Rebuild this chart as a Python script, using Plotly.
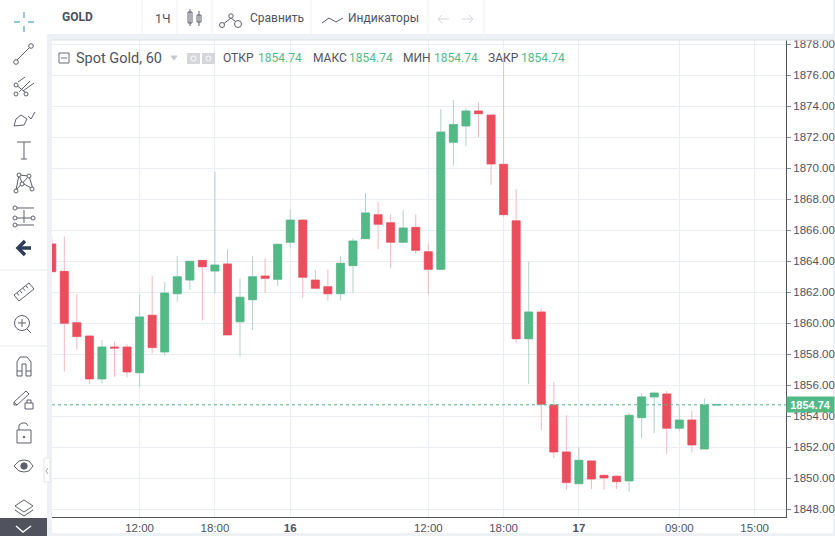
import plotly.graph_objects as go

W, H = 835, 536
PLOT_L, PLOT_R, PLOT_T, PLOT_B = 52, 786, 40, 517

# candles, hourly
opens = [1865.12, 1863.35, 1860.04, 1859.18, 1856.41, 1858.47, 1858.47, 1856.81, 1860.52, 1858.15,
         1861.91, 1862.79, 1864.06, 1863.37, 1863.83, 1860.10, 1861.52, 1863.05, 1862.84, 1865.23,
         1866.66, 1862.79, 1862.36, 1861.91, 1863.72, 1865.46, 1867.01, 1866.49, 1865.23, 1866.19,
         1864.62, 1863.48, 1871.68, 1872.73, 1873.70, 1873.44, 1870.26, 1866.61, 1859.00, 1860.73,
         1854.73, 1851.70, 1849.65, 1851.12, 1850.19, 1850.13, 1849.83, 1853.91, 1855.25, 1855.44,
         1853.23, 1853.76, 1851.89, 1854.74]
highs = [1865.57, 1865.60, 1861.89, 1859.18, 1858.92, 1858.81, 1858.65, 1861.87, 1863.07, 1862.68,
         1864.34, 1864.00, 1864.06, 1869.76, 1864.77, 1862.90, 1864.34, 1864.19, 1865.10, 1867.35,
         1866.70, 1863.44, 1863.48, 1864.34, 1865.48, 1868.39, 1867.85, 1867.05, 1867.31, 1867.03,
         1865.16, 1873.81, 1874.41, 1873.91, 1874.26, 1873.44, 1877.12, 1868.65, 1863.97, 1860.97,
         1856.23, 1854.08, 1851.97, 1851.12, 1850.25, 1850.20, 1854.23, 1855.48, 1855.60, 1855.65,
         1854.73, 1854.34, 1855.16, 1854.74]
lows = [1863.33, 1856.88, 1858.32, 1856.08, 1856.13, 1856.55, 1856.52, 1855.87, 1858.06, 1857.91,
        1861.39, 1862.15, 1860.17, 1861.93, 1859.25, 1857.85, 1859.57, 1861.97, 1862.41, 1864.88,
        1861.61, 1862.20, 1861.46, 1861.46, 1861.94, 1865.46, 1864.79, 1863.55, 1865.23, 1864.47,
        1861.87, 1863.48, 1870.17, 1871.44, 1872.00, 1868.94, 1866.88, 1858.71, 1856.08, 1853.12,
        1851.31, 1849.25, 1849.65, 1849.31, 1849.25, 1849.31, 1849.14, 1852.58, 1852.90, 1851.57,
        1853.05, 1851.65, 1851.89, 1854.74]
closes = [1863.33, 1860.00, 1859.14, 1856.41, 1858.47, 1858.40, 1856.86, 1860.41, 1858.43, 1861.95,
          1863.00, 1864.00, 1863.65, 1863.76, 1859.25, 1861.68, 1863.00, 1862.90, 1865.10, 1866.66,
          1862.97, 1862.26, 1861.91, 1863.87, 1865.31, 1867.12, 1866.39, 1865.23, 1866.15, 1864.71,
          1863.48, 1872.34, 1872.82, 1873.70, 1873.52, 1870.28, 1867.01, 1859.00, 1860.73, 1854.77,
          1851.70, 1849.72, 1851.16, 1849.95, 1850.02, 1849.78, 1854.06, 1855.25, 1855.50, 1853.23,
          1853.76, 1852.15, 1854.73, 1854.74]
bar_index = list(range(len(opens)))

x_tick_index = [7, 13, 19, 30, 36, 42, 50, 56]
x_tick_labels = ["12:00", "18:00", "<b>16</b>", "12:00", "18:00", "<b>17</b>", "09:00", "15:00"]
y_ticks = list(range(1848, 1880, 2))
last_price = 1854.74

GREEN, RED = "#53b987", "#eb4d5c"
GREEN_WICK, RED_WICK = "#b4d2cc", "#f0b8c0"
GRID = "#e9eef2"
ICON = "#5d606b"
FONT = "Roboto"
shapes, notes = [], []


def px(x):
    return (x - PLOT_L) / (PLOT_R - PLOT_L)


def py(y):
    return (PLOT_B - y) / (PLOT_B - PLOT_T)


def rect(x0, y0, x1, y1, fill, line=None, width=1, layer="above"):
    shapes.append(dict(type="rect", xref="paper", yref="paper", x0=px(x0), x1=px(x1), y0=py(y0), y1=py(y1),
                       fillcolor=fill, line=dict(color=line or fill, width=width if line else 0), layer=layer))


def path(points, color=ICON, width=1, close=False, fill=None):
    d = "M" + " L".join(f"{px(a):.5f},{py(b):.5f}" for a, b in points) + (" Z" if close else "")
    shapes.append(dict(type="path", xref="paper", yref="paper", path=d, line=dict(color=color, width=width),
                       fillcolor=fill or "rgba(0,0,0,0)"))


def circle(cx, cy, r, color=ICON, width=1, fill="white"):
    shapes.append(dict(type="circle", xref="paper", yref="paper", x0=px(cx - r), x1=px(cx + r), y0=py(cy + r),
                       y1=py(cy - r), line=dict(color=color, width=width), fillcolor=fill))


def label(x, y, text, color="#50535e", size=12, anchor="left"):
    notes.append(dict(xref="paper", yref="paper", x=px(x), y=py(y), text=text, showarrow=False, xanchor=anchor,
                      yanchor="middle", font=dict(family=FONT, size=size, color=color), borderpad=0))


# panels behind the chart
rect(0, 0, 47, 536, "white", layer="below")
rect(47, 0, 833, 34, "white", layer="below")
rect(786, 40, 833, 517, "white", layer="below")
rect(52, 517, 833, 533, "white", layer="below")
for sx in [142, 177, 212, 311, 428, 484]:
    path([(sx, 0), (sx, 34)], "#eef0f3", 1)
for sy in [270, 346]:
    path([(0, sy), (47, sy)], "#e6e8ec", 1)
path([(52, 40), (833, 40)], "#dde2e6", 1)

# top bar
label(61, 17, "<b>GOLD</b>", "#4c4f59", 12)
label(154, 18, "1Ч", size=12.5)
label(249, 18, "Сравнить", size=12)
label(347, 18, "Индикаторы", size=12)
rect(188, 12, 192, 23, "white", ICON)
path([(190, 9), (190, 26)])
rect(197, 15, 201, 22, "white", ICON)
path([(199, 11), (199, 26)])
path([(222, 25), (231, 18), (240, 25)])
circle(222, 25, 2.5)
circle(231, 16, 2.2)
circle(238, 24, 3.5)
path([(322, 23), (329, 18), (336, 22), (343, 18)])
path([(438, 19), (449, 19)], "#d5d7dc")
path([(442, 15), (438, 19), (442, 23)], "#d5d7dc")
path([(462, 19), (473, 19)], "#d5d7dc")
path([(469, 15), (473, 19), (469, 23)], "#d5d7dc")

# legend line
rect(59, 53, 69, 63, "white", "#6b6e78")
path([(61, 58), (67, 58)], "#6b6e78")
label(75, 58, "Spot Gold, 60", "#50535e", 14.5)
path([(171, 56), (177, 56), (174, 60)], "#c5c8cc", 1, True, "#c5c8cc")
rect(187, 53, 200, 64, "#d4d6da")
rect(202, 53, 215, 64, "#d4d6da")
circle(193.5, 58.5, 2.5, "white", 1, "#d4d6da")
circle(208.5, 58.5, 2.5, "white", 1, "#d4d6da")
for name, name_x, val_x in [("ОТКР", 222, 257), ("МАКС", 312, 348), ("МИН", 402, 433), ("ЗАКР", 487, 520)]:
    label(name_x, 58, name, "#50535e", 12)
    label(val_x, 58, "1854.74", GREEN, 12)

# left toolbar
for seg in [[(14, 22), (20, 22)], [(28, 22), (34, 22)], [(24, 12), (24, 18)], [(24, 26), (24, 32)]]:
    path(seg, "#7db9d6", 1.6)
path([(17, 60), (30, 47)])
circle(16, 62, 2.3)
circle(31, 46, 2.3)
for seg in [[(15, 84), (26, 93)], [(18, 82), (25, 77)], [(23, 91), (34, 83)], [(19, 92), (30, 81)]]:
    path(seg)
for cx, cy in [(16, 94), (26, 94), (16, 85)]:
    circle(cx, cy, 2)
path([(14, 126), (24, 125), (27, 119), (21, 115), (16, 119)], close=True)
path([(28, 116), (31, 119), (35, 112)])
path([(17, 142), (31, 142)])
path([(24, 142), (24, 159)])
path([(21, 159), (27, 159)])
path([(16, 190), (19, 175), (29, 176), (33, 189), (22, 183), (19, 175)])
path([(16, 190), (29, 176)])
for cx, cy in [(16, 191), (19, 175), (29, 176), (32, 189), (22, 184)]:
    circle(cx, cy, 2)
for ly in [208, 218, 225]:
    path([(15, ly), (34, ly)])
path([(24, 210), (24, 223)])
for cx, cy in [(15, 208), (15, 218), (15, 225), (33, 218)]:
    circle(cx, cy, 2)
path([(31, 248), (19, 248)], "#2f3d58", 3.5)
path([(25, 241), (18, 248), (25, 255)], "#2f3d58", 3.5)
path([(14, 295), (29, 283), (34, 289), (19, 301)], close=True)
for t in range(4):
    path([(17 + 3 * t, 293 - 2.4 * t), (19 + 3 * t, 295.5 - 2.4 * t)])
circle(22, 323, 7.5)
path([(27, 329), (31, 333)])
path([(18, 323), (26, 323)])
path([(22, 319), (22, 327)])
path([(17, 376), (17, 362), (20, 357), (27, 357), (31, 362), (31, 376), (26, 376), (26, 364), (22, 364), (22, 376)], close=True)
path([(17, 371), (22, 371)])
path([(26, 371), (31, 371)])
path([(14, 402), (17, 405), (29, 394), (26, 391), (14, 402)])
path([(14, 402), (14, 405), (17, 405)])
rect(25, 403, 33, 409, "white", ICON)
path([(27, 403), (27, 400), (31, 400), (31, 403)])
rect(17, 430, 31, 443, "white", ICON)
path([(19, 430), (19, 425), (22, 423), (26, 423), (28, 426)])
circle(24, 437, 0.8, ICON, 1, ICON)
path([(14, 466), (19, 461), (24, 460), (29, 461), (33, 466), (29, 471), (24, 472), (19, 471)], close=True)
circle(24, 466, 3.2, ICON, 1, ICON)
rect(44, 458, 50, 482, "white", "#e2e4e8")
path([(48, 468), (46, 471), (48, 474)], "#a0a3aa")
path([(15, 506), (24, 500), (33, 506), (24, 512)], close=True)
path([(15, 510), (24, 516), (33, 510)])
rect(0, 518, 47, 536, "#50535e")
path([(16, 526), (23, 532), (31, 526)], "white", 1.4)

fig = go.Figure()
# wicks first, bodies on top with the wick colour left out
fig.add_trace(go.Candlestick(x=bar_index, open=opens, high=highs, low=lows, close=closes, whiskerwidth=0,
                             increasing=dict(line=dict(color=GREEN_WICK, width=1), fillcolor=GREEN),
                             decreasing=dict(line=dict(color=RED_WICK, width=1), fillcolor=RED)))
fig.add_trace(go.Candlestick(x=bar_index, open=opens, close=closes,
                             high=[max(a, b) for a, b in zip(opens, closes)],
                             low=[min(a, b) for a, b in zip(opens, closes)],
                             increasing=dict(line=dict(color=GREEN, width=0.5), fillcolor=GREEN),
                             decreasing=dict(line=dict(color=RED, width=0.5), fillcolor=RED)))

shapes.append(dict(type="line", xref="paper", yref="y", x0=0, x1=1, y0=last_price, y1=last_price,
                   line=dict(color=GREEN, width=1, dash="dot")))
notes.append(dict(xref="paper", yref="y", x=1, y=last_price, text="<b>" + f"{last_price:.2f}" + "</b>", showarrow=False,
                  xanchor="left", yanchor="middle", bgcolor=GREEN, width=47, height=15, borderpad=0,
                  font=dict(family="Liberation Sans", size=11, color="white")))

fig.update_layout(
    width=W, height=H,
    margin=dict(l=PLOT_L, r=W - PLOT_R, t=PLOT_T, b=H - PLOT_B, pad=0),
    paper_bgcolor="#edf0f4", plot_bgcolor="white",
    showlegend=False, boxgap=0.36, boxgroupgap=0,
    shapes=shapes, annotations=notes,
    xaxis=dict(range=[0.02, 58.5], automargin=False, rangeslider=dict(visible=False), tickmode="array",
               tickvals=x_tick_index, ticktext=x_tick_labels, gridcolor=GRID, showline=True, linecolor="#50535e",
               linewidth=1, zeroline=False, ticks="", tickfont=dict(family="Liberation Sans", size=11.5, color="#50535e")),
    yaxis=dict(range=[1847.5, 1878.28], automargin=False, side="right", tickmode="array", tickvals=y_ticks,
               ticktext=[f"{v:.2f}" for v in y_ticks], gridcolor=GRID, showline=True, linecolor="#50535e", linewidth=1,
               zeroline=False, ticks="outside", ticklen=4, tickcolor="#8a8d95",
               tickfont=dict(family="Liberation Sans", size=11.5, color="#50535e")),
)

fig.write_html("out.html", config={"displayModeBar": False}, post_script="document.body.style.margin='0';")
